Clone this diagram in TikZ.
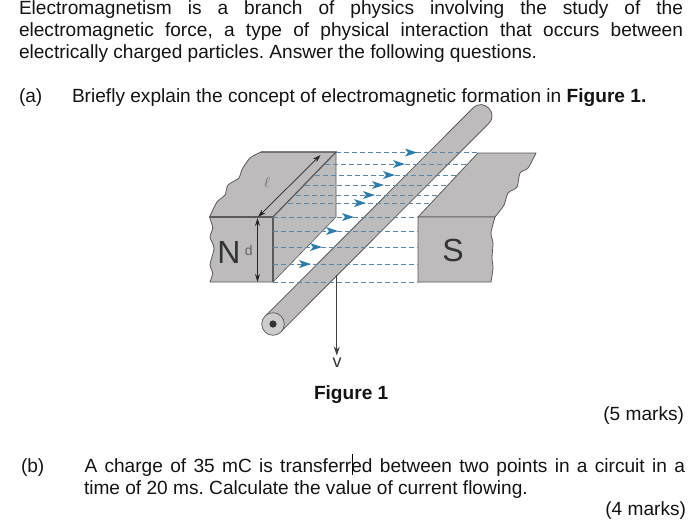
\documentclass[tikz,border=0pt]{standalone}
\usepackage{fontspec}
\setmainfont{Liberation Sans}
\usetikzlibrary{arrows.meta}
\definecolor{facegray}{HTML}{BDBBBC}
\definecolor{edgegray}{HTML}{5A5A5A}
\definecolor{fluxblue}{HTML}{5F86A6}
\definecolor{tipblue}{HTML}{2E7DA8}
\definecolor{inkgray}{HTML}{333333}
\tikzset{
  prose/.style={anchor=base west,inner sep=0pt,outer sep=0pt,font=\fontsize{19.1}{22}\selectfont\frenchspacing,text=black!92},
  proser/.style={prose,anchor=base east},
  face/.style={fill=facegray,draw=edgegray,line width=0.8pt,line join=round},
  fluxline/.style={draw=fluxblue,line width=0.8pt,dash pattern=on 5pt off 3pt},
  fluxtip/.style={draw=none,fill=tipblue},
  dimline/.style={draw=black!85,line width=0.7pt,{Stealth[length=8pt,width=5pt]}-{Stealth[length=8pt,width=5pt]}},
  biglabel/.style={inner sep=0pt,text=inkgray,font=\fontsize{32}{34}\selectfont},
  smalllabel/.style={inner sep=0pt,text=black!60}
}
\newcommand{\fluxrow}[4]{%
  \draw[fluxline] (#2,#1) -- (#3,#1);
  \fill[fluxtip] (#4+7,#1) -- (#4-5,#1-4) -- (#4-2,#1) -- (#4-5,#1+4) -- cycle;}
\begin{document}
\begin{tikzpicture}[x=1pt,y=-1pt]
\useasboundingbox (0,0) rectangle (698,531);
\fill[white] (0,0) rectangle (698,531);
% text
\node[prose] (l1) at (19,14) {\makebox[664pt][s]{Electromagnetism is a branch of physics involving the study of the}};
\node[prose] (l2) at (19,36) {\makebox[664pt][s]{electromagnetic force, a type of physical interaction that occurs between}};
\node[prose] (l3) at (19,58) {electrically charged particles. Answer the following questions.};
\node[prose] (al) at (19,102) {(a)};
\node[prose] (at) at (72,102) {Briefly explain the concept of electromagnetic formation in \textbf{Figure 1.}};
\node[prose] (fig) at (314,399) {\textbf{Figure 1}};
\node[proser] (m5) at (684,420) {(5 marks)};
\node[prose] (bl) at (21,472) {(b)};
\node[prose] (b1) at (84.5,472) {\makebox[600.5pt][s]{A charge of 35 mC is transferred between two points in a circuit in a}};
\node[prose] (b2) at (84,494) {time of 20 ms. Calculate the value of current flowing.};
\node[proser] (m4) at (686,515) {(4 marks)};
\coordinate (curT) at (352.7,454);
\coordinate (curB) at (352.7,475);
\draw[black,line width=0.6pt] (curT) -- (curB);
% N magnet
\coordinate (Nfl) at (209.5,217);
\coordinate (Nfr) at (273,217);
\coordinate (Nbr) at (273,282);
\coordinate (Nbl) at (210,282);
\coordinate (Ntl) at (261,152);
\coordinate (Ntr) at (336,152);
\fill[facegray] (Nfr) -- (Ntr) -- (336,217) -- (Nbr) -- cycle;
\draw[edgegray,line width=0.6pt] (Ntr) -- (336,217) -- (Nbr);
\draw[face] (Ntr) -- (Ntl) -- plot[smooth,tension=0.45] coordinates {(261,152) (250,158) (241.7,170) (239,178) (228,185) (225,195) (217,202) (209.5,217)} -- (Nfr) -- cycle;
\draw[face] (Nfr) -- (Nfl) -- plot[smooth,tension=0.45] coordinates {(209.5,217) (212.7,228) (210,237) (214,248) (210,265) (212.7,273) (210,282)} -- (Nbr) -- cycle;
\draw[edgegray,line width=1.3pt] (Nfl) -- (Nfr);
\draw[edgegray,line width=1.1pt] (Nfr) -- (Nbr);
\draw[edgegray,line width=1.1pt] (Ntl) -- (Ntr) -- (Nfr);
% S magnet
\coordinate (Sfl) at (418,217);
\coordinate (Sfr) at (495,217);
\coordinate (Sbr) at (491,282);
\coordinate (Sbl) at (418,282);
\coordinate (Stl) at (478,153);
\coordinate (Str) at (536,153);
\draw[face] (Sfl) -- (Stl) -- (Str) -- plot[smooth,tension=0.45] coordinates {(536,153) (528,168) (520,173) (517,187) (508,193) (504,205) (495,217)} -- cycle;
\draw[face] (Sfl) -- (Sfr) -- plot[smooth,tension=0.45] coordinates {(495,217) (491,233) (493,243) (492,258) (493,268) (491,282)} -- (Sbl) -- cycle;
% conductor
\coordinate (rodA) at (265.2,316.2);
\coordinate (rodB) at (473,108);
\coordinate (rodC) at (488.6,123.6);
\coordinate (rodD) at (280.8,331.8);
\coordinate (rodEnd) at (273,324);
\draw[face] (rodA) -- (rodB) .. controls (483.4,97.6) and (499,113.2) .. (rodC) -- (rodD) -- cycle;
\draw[fill=facegray!75,draw=edgegray,line width=0.7pt] (rodEnd) circle[radius=11.3pt];
\fill[black!80] (rodEnd) circle[radius=3.6pt];
% velocity
\coordinate (vS) at (336.8,275);
\node[inner sep=0pt,text=inkgray,font=\fontsize{18}{18}\selectfont] (vL) at (337,362.5) {v};
\draw[draw=black!75,line width=0.8pt,-{Stealth[length=9pt,width=6pt]}] (vS) -- (336.8,355.5);
% flux
\fluxrow{152.5}{336}{478}{410}
\fluxrow{164}{325}{468}{398}
\fluxrow{175}{315}{457}{388}
\fluxrow{185}{305}{447}{377}
\fluxrow{195}{296}{438}{368}
\fluxrow{203}{288}{430}{359}
\fluxrow{217}{273}{418}{347}
\fluxrow{231}{273}{418}{331}
\fluxrow{247}{273}{418}{315}
\fluxrow{264}{273}{418}{304}
\draw[fluxline] (273,282) -- (418,282);
% dimensions
\coordinate (ellA) at (320.5,155);
\coordinate (ellB) at (258,217);
\draw[dimline] (ellA) -- (ellB);
\coordinate (dA) at (257.5,218);
\coordinate (dB) at (257.5,282);
\draw[dimline] (dA) -- (dB);
\node[inner sep=0pt,text=black!60,font=\fontsize{15}{15}\selectfont] (ell) at (267,182) {$\ell$};
\node[biglabel] (N) at (229,252) {N};
\node[biglabel] (S) at (453,250.5) {S};
\node[smalllabel,font=\fontsize{14}{14}\selectfont] (d) at (248.7,250) {d};
\end{tikzpicture}
\end{document}
